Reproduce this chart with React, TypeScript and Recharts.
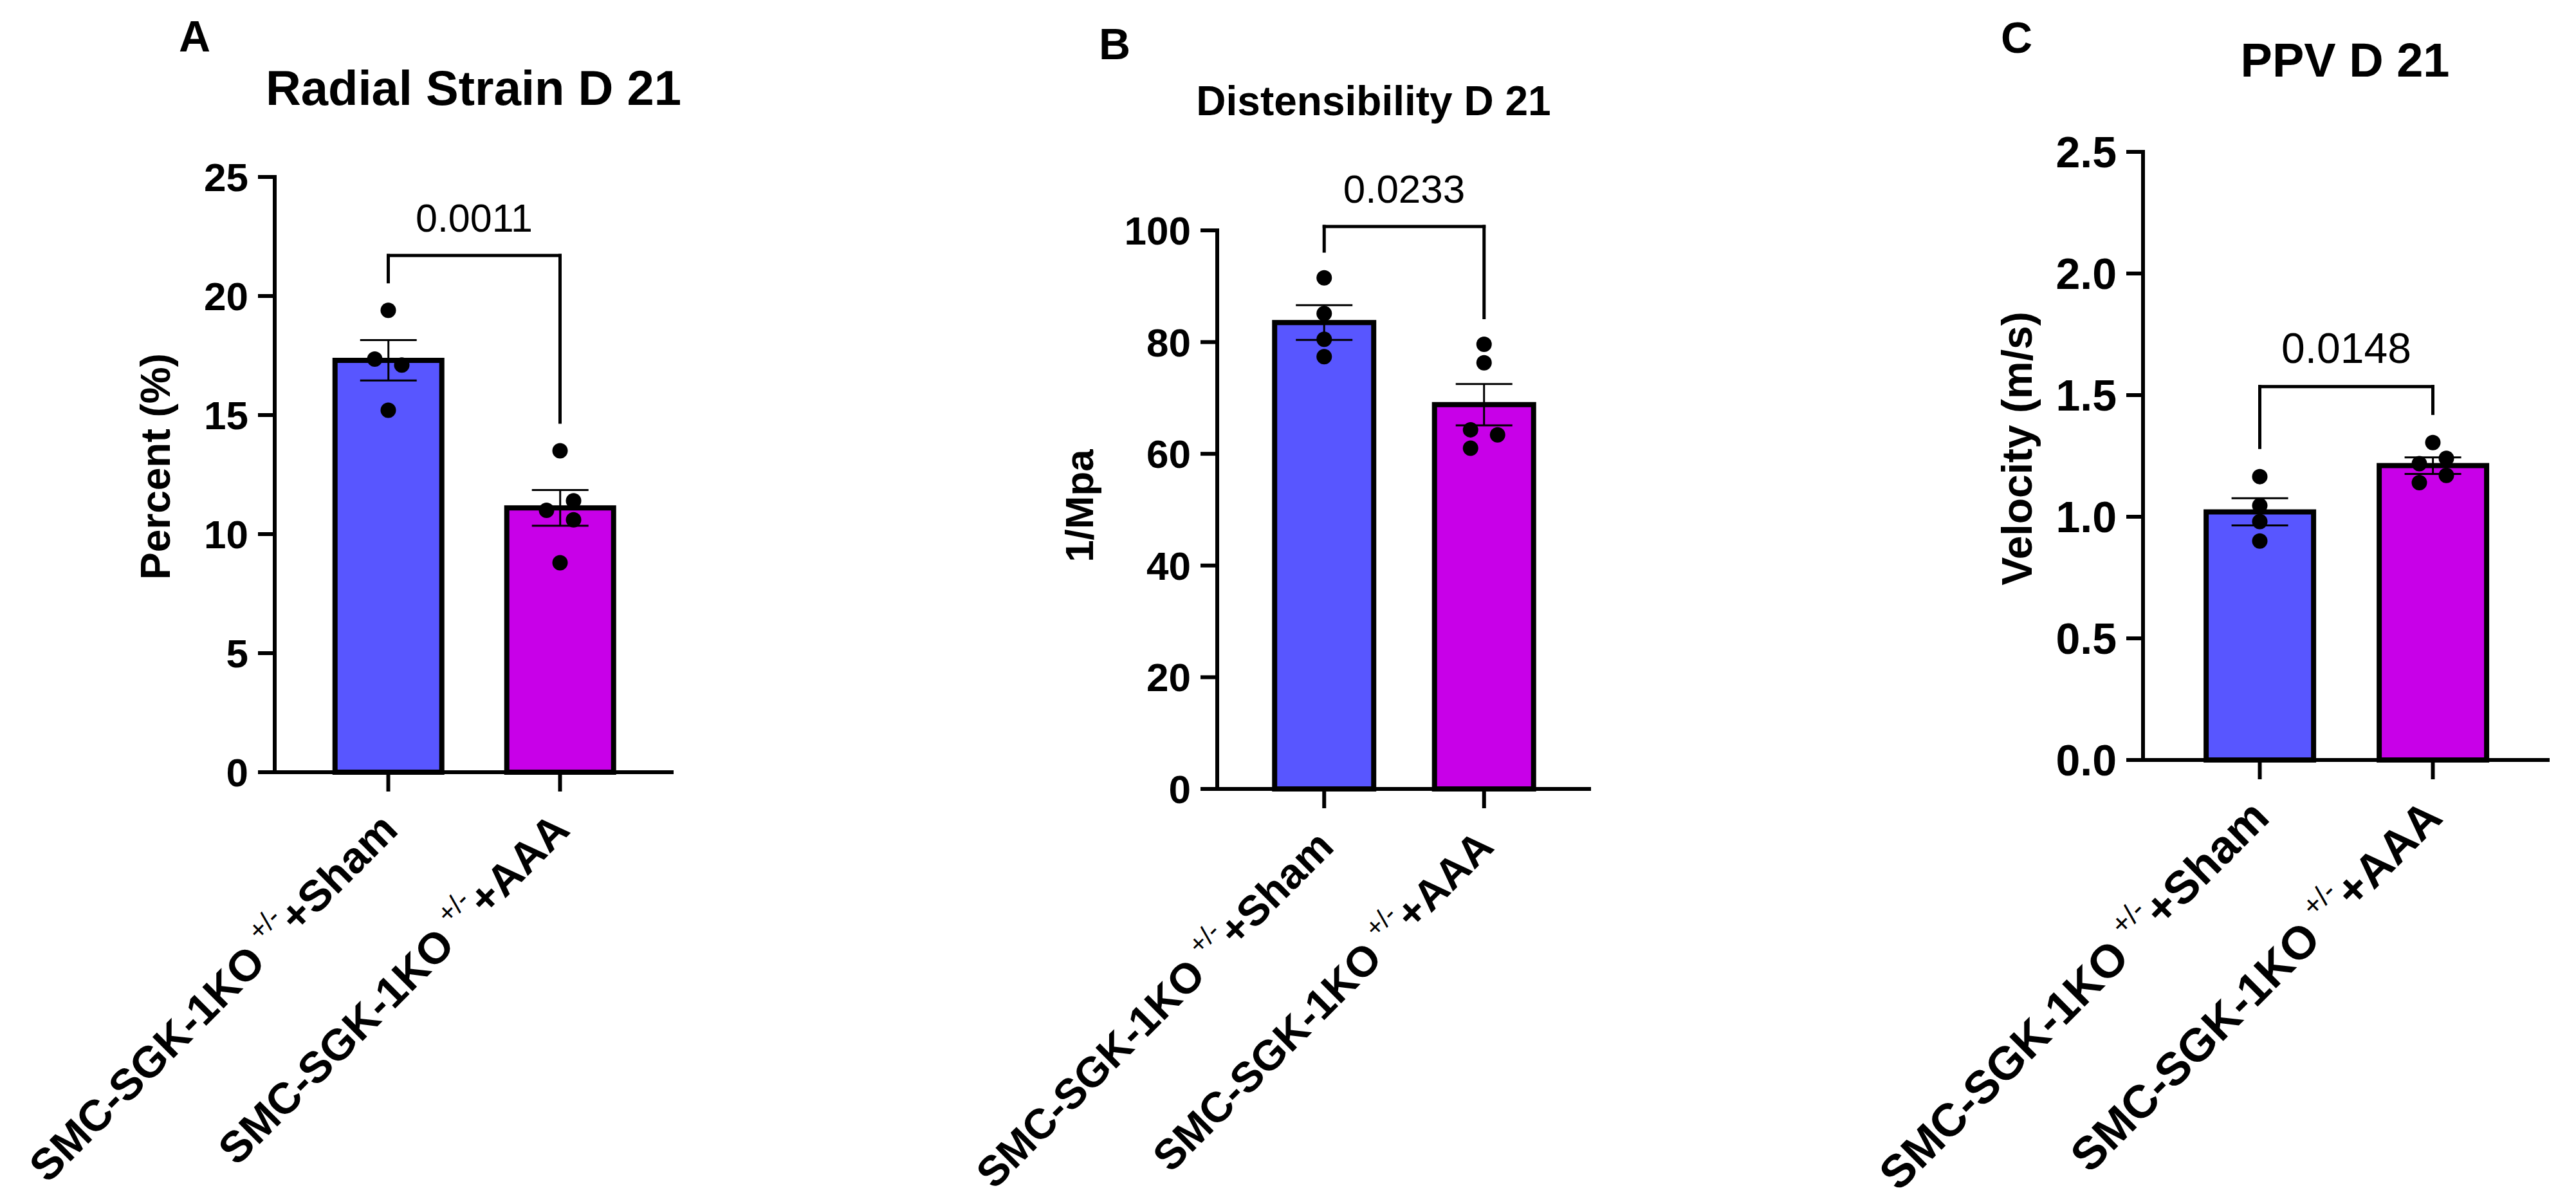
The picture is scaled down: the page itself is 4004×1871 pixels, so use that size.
import React from "react";
import {
  Bar,
  Cell,
  ComposedChart,
  ErrorBar,
  ReferenceLine,
  Scatter,
  XAxis,
  YAxis,
} from "recharts";

const FONT = "'Liberation Sans', Arial, Helvetica, sans-serif";
const BLUE = "#5856FF";
const MAGENTA = "#C800E8";
const FILLS = [BLUE, MAGENTA];

const groups = ["Sham", "AAA"];
const genotype = "SMC-SGK-1KO";
const zygosity = "+/-";

// Radial strain, day 21 (%)
const strainSham = [19.4, 17.35, 17.1, 15.2];
const strainAAA = [13.5, 11.0, 11.4, 10.6, 8.8];
const strainMean = [17.3, 11.1];
const strainSem = [0.85, 0.75];
const strainTicks = [0, 5, 10, 15, 20, 25];

// Distensibility, day 21 (1/MPa)
const distSham = [91.5, 85.1, 80.5, 77.4];
const distAAA = [79.6, 76.3, 64.3, 63.4, 61.0];
const distMean = [83.5, 68.8];
const distSem = [3.1, 3.7];
const distTicks = [0, 20, 40, 60, 80, 100];

// Pulse propagation velocity, day 21 (m/s)
const ppvSham = [1.165, 1.046, 0.98, 0.9];
const ppvAAA = [1.305, 1.218, 1.24, 1.14, 1.17];
const ppvMean = [1.02, 1.21];
const ppvSem = [0.056, 0.034];
const ppvTicks = [0, 0.5, 1.0, 1.5, 2.0, 2.5];

// Dots that sit too close vertically get pushed into a left/right column.
function swarm(values: number[], tol: number): number[] {
  const side = values.map(() => 0);
  const placed: { v: number; s: number }[] = [];
  values.forEach((v, i) => {
    const crowded = values.some((w, j) => j !== i && Math.abs(w - v) < tol);
    if (!crowded) return;
    const free = (s: number) => !placed.some((p) => p.s === s && Math.abs(p.v - v) < tol);
    side[i] = free(-1) ? -1 : free(1) ? 1 : 0;
    placed.push({ v, s: side[i] });
  });
  return side;
}

// Significance bracket sits a little above the tallest dot of each group.
function bracket(sham: number[], aaa: number[], top: number) {
  const lift = top * 0.048;
  const left = Math.max(...sham) + lift;
  const right = Math.max(...aaa) + lift;
  return { left, right, top: Math.max(left, right) + top * 0.044 };
}

function GroupTick({ x, y, payload, size }: any) {
  return (
    <g transform={`translate(${x + 18},${y + 61})`}>
      <text
        transform="rotate(-45)"
        textAnchor="end"
        fontFamily={FONT}
        fontWeight={700}
        fontSize={size}
        fill="#000"
      >
        {genotype}
        <tspan dx={size * 0.22} dy={-size * 0.5} fontSize={size * 0.62} fontWeight={400}>
          {zygosity}
        </tspan>
        <tspan dy={size * 0.5}>+{payload.value}</tspan>
      </text>
    </g>
  );
}

interface PanelProps {
  letter: string;
  title: string;
  yTitle: string;
  pValue: string;
  sham: number[];
  aaa: number[];
  mean: number[];
  sem: number[];
  ticks: number[];
  format?: (v: number) => string;
  left: number;
  width: number;
  margin: { top: number; right: number; bottom: number; left: number };
  pad: number;
  letterPos: [number, number];
  titlePos: [number, number];
  yTitlePos: [number, number];
  fs: { title: number; tick: number; cat: number; yTitle: number; p: number };
}

function Panel(p: PanelProps) {
  const top = p.ticks[p.ticks.length - 1];
  const summary = groups.map((g, i) => ({ group: g, mean: p.mean[i], sem: p.sem[i] }));
  const points = [p.sham, p.aaa].flatMap((vals, gi) => {
    const side = swarm(vals, top * 0.025);
    return vals.map((v, i) => ({ group: groups[gi], value: v, side: side[i] }));
  });
  const br = bracket(p.sham, p.aaa, top);
  const line = { stroke: "#000", strokeWidth: 5, strokeLinecap: "square" as const, ifOverflow: "visible" as const };

  return (
    <>
      <div style={{ position: "absolute", left: p.left, top: 0 }}>
        <ComposedChart width={p.width} height={1871} data={summary} margin={p.margin} barCategoryGap="19%">
          <XAxis
            dataKey="group"
            type="category"
            allowDuplicatedCategory={false}
            interval={0}
            height={600}
            padding={{ left: p.pad, right: p.pad }}
            tickSize={30}
            axisLine={{ stroke: "#000", strokeWidth: 6 }}
            tickLine={{ stroke: "#000", strokeWidth: 6 }}
            tick={(props: any) => <GroupTick {...props} size={p.fs.cat} />}
          />
          <YAxis
            domain={[0, top]}
            ticks={p.ticks}
            width={200}
            tickSize={26}
            tickMargin={15}
            tickFormatter={p.format}
            axisLine={{ stroke: "#000", strokeWidth: 6, strokeLinecap: "square" }}
            tickLine={{ stroke: "#000", strokeWidth: 6 }}
            tick={{ fill: "#000", fontSize: p.fs.tick, fontWeight: 700, fontFamily: FONT }}
          />
          <Bar dataKey="mean" stroke="#000" strokeWidth={8} isAnimationActive={false}>
            {summary.map((s, i) => (
              <Cell key={s.group} fill={FILLS[i]} />
            ))}
            <ErrorBar dataKey="sem" width={44} strokeWidth={3} stroke="#000" direction="y" isAnimationActive={false} />
          </Bar>
          <Scatter
            data={points}
            dataKey="value"
            isAnimationActive={false}
            shape={(s: any) => <circle cx={s.cx + s.payload.side * 21} cy={s.cy} r={12} fill="#000" />}
          />
          <ReferenceLine segment={[{ x: groups[0], y: br.left }, { x: groups[0], y: br.top }]} {...line} />
          <ReferenceLine segment={[{ x: groups[1], y: br.right }, { x: groups[1], y: br.top }]} {...line} />
          <ReferenceLine
            segment={[{ x: groups[0], y: br.top }, { x: groups[1], y: br.top }]}
            {...line}
            label={{
              value: p.pValue,
              position: "top",
              offset: 37,
              fill: "#000",
              fontSize: p.fs.p,
              fontFamily: FONT,
            }}
          />
        </ComposedChart>
      </div>
      <div
        style={{
          position: "absolute",
          left: p.letterPos[0],
          top: p.letterPos[1],
          transform: "translateY(-50%)",
          fontSize: 68,
          fontWeight: 700,
          lineHeight: 1,
        }}
      >
        {p.letter}
      </div>
      <div
        style={{
          position: "absolute",
          left: p.titlePos[0],
          top: p.titlePos[1],
          transform: "translate(-50%, -50%)",
          fontSize: p.fs.title,
          fontWeight: 700,
          lineHeight: 1,
          whiteSpace: "nowrap",
        }}
      >
        {p.title}
      </div>
      <div
        style={{
          position: "absolute",
          left: p.yTitlePos[0],
          top: p.yTitlePos[1],
          transform: "translate(-50%, -50%) rotate(-90deg)",
          fontSize: p.fs.yTitle,
          fontWeight: 700,
          lineHeight: 1,
          whiteSpace: "nowrap",
        }}
      >
        {p.yTitle}
      </div>
    </>
  );
}

export default function App() {
  return (
    <div
      style={{
        position: "absolute",
        left: 0,
        top: 0,
        width: 4004,
        height: 1871,
        background: "#fff",
        overflow: "hidden",
        fontFamily: FONT,
        color: "#000",
      }}
    >
      <Panel
        letter="A"
        title="Radial Strain D 21"
        yTitle="Percent (%)"
        pValue="0.0011"
        sham={strainSham}
        aaa={strainAAA}
        mean={strainMean}
        sem={strainSem}
        ticks={strainTicks}
        left={0}
        width={1100}
        margin={{ top: 275, right: 53, bottom: 71, left: 227 }}
        pad={43}
        letterPos={[278, 56]}
        titlePos={[736, 137]}
        yTitlePos={[242, 725]}
        fs={{ title: 76, tick: 62, cat: 68, yTitle: 64, p: 61 }}
      />
      <Panel
        letter="B"
        title="Distensibility D 21"
        yTitle="1/Mpa"
        pValue="0.0233"
        sham={distSham}
        aaa={distAAA}
        mean={distMean}
        sem={distSem}
        ticks={distTicks}
        left={1350}
        width={1200}
        margin={{ top: 358, right: 77, bottom: 45, left: 342 }}
        pad={42}
        letterPos={[1708, 68]}
        titlePos={[2135, 157]}
        yTitlePos={[1678, 786]}
        fs={{ title: 64, tick: 62, cat: 66, yTitle: 62, p: 62 }}
      />
      <Panel
        letter="C"
        title="PPV D 21"
        yTitle="Velocity (m/s)"
        pValue="0.0148"
        sham={ppvSham}
        aaa={ppvAAA}
        mean={ppvMean}
        sem={ppvSem}
        ticks={ppvTicks}
        format={(v) => v.toFixed(1)}
        left={2850}
        width={1154}
        margin={{ top: 236, right: 41, bottom: 90, left: 281 }}
        pad={47}
        letterPos={[3110, 58]}
        titlePos={[3645, 94]}
        yTitlePos={[3135, 697]}
        fs={{ title: 74, tick: 68, cat: 72, yTitle: 66, p: 66 }}
      />
    </div>
  );
}
